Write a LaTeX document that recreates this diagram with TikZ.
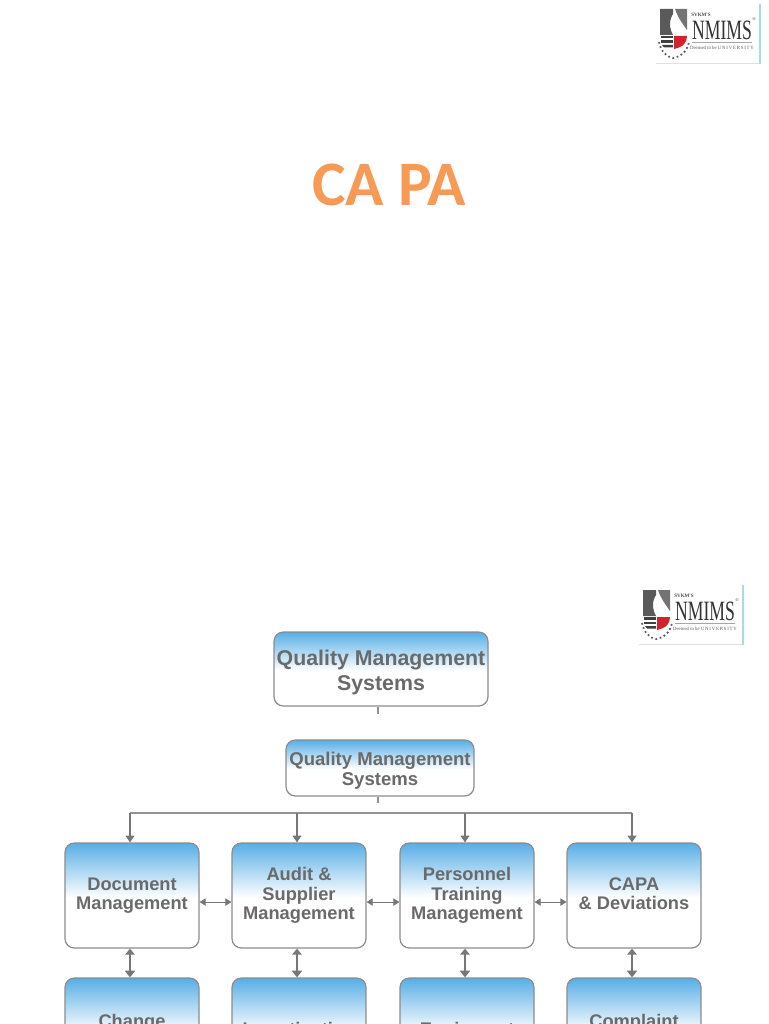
\documentclass[tikz,border=0pt]{standalone}
\usepackage{fontspec}
\setmainfont{Liberation Sans}
\newfontfamily\titlefont{Carlito}
\newfontfamily\serifface{Liberation Serif}
\usetikzlibrary{arrows.meta}
\definecolor{txtgrey}{HTML}{6A6A6A}
\definecolor{edgegrey}{HTML}{8C8C8C}
\definecolor{linegrey}{HTML}{777777}
\definecolor{headblue}{HTML}{58AEE6}
\definecolor{titleorange}{HTML}{F79A56}
\definecolor{logored}{HTML}{D3222E}
\definecolor{logogrey}{HTML}{5A5A5A}
\definecolor{logoblue}{HTML}{A6DCE6}
\pgfdeclareverticalshading{boxfade}{100bp}{color(0bp)=(white); color(25bp)=(white); color(49bp)=(white); color(62bp)=(headblue!50!white); color(75bp)=(headblue); color(100bp)=(headblue)}
\tikzset{
  x=0.75pt, y=-0.75pt,
  qbox/.style={draw=edgegrey, line width=0.9pt, rounded corners=7pt, shading=boxfade, align=center, text=txtgrey, font=\bfseries, inner sep=0pt},
  topbox/.style={qbox, minimum width=160.5pt, minimum height=55.5pt, font=\fontsize{16}{18.75}\selectfont\bfseries},
  subbox/.style={qbox, minimum width=141pt, minimum height=42pt, font=\fontsize{13.9}{15}\selectfont\bfseries},
  modbox/.style={qbox, minimum width=100.5pt, minimum height=78.75pt, font=\fontsize{13.7}{14.6}\selectfont\bfseries},
  stub/.style={draw=linegrey!80!white, line width=0.8pt},
  busline/.style={draw=linegrey!80!white, line width=0.9pt},
  downarrow/.style={draw=linegrey, line width=0.9pt, -{Triangle[length=5pt,width=6.5pt]}},
  sidearrow/.style={draw=linegrey, line width=0.7pt, {Triangle[length=4.5pt,width=5.5pt]}-{Triangle[length=4.5pt,width=5.5pt]}},
  vertarrow/.style={draw=linegrey, line width=1.5pt, {Triangle[length=4.5pt,width=7pt]}-{Triangle[length=5pt,width=7.5pt]}},
  nmims/.pic={
    \fill[logogrey] (4,9) -- (17,9) -- (17,14) .. controls (12,22) and (14,30) .. (17,35) -- (4,35) -- cycle;
    \fill[logogrey!85!white] (19,9) -- (31,9) -- (31,30) .. controls (27,24) and (22,18) .. (19,9) -- cycle;
    \fill[logored] (18,36) -- (31,36) .. controls (31,43) and (27,47) .. (18,49) -- cycle;
    \fill[black!75] (5,36) rectangle (17,38.5);
    \fill[black!75] (5,40.5) rectangle (17,43);
    \fill[black!75] (6,45) -- (17,45) -- (17,47.5) -- (8,47.5) -- cycle;
    \draw[logogrey, line width=1.3pt, dotted] (3,42) .. controls (5,52) and (11,57) .. (17,58) .. controls (24,57) and (31,52) .. (33,42);
    \node[font=\serifface\fontsize{3.8}{4}\selectfont\bfseries, text=black!70, inner sep=0pt] (-svkm) at (45,15) {SVKM'S};
    \node[font=\serifface\fontsize{21}{22}\selectfont, text=black!80, inner sep=0pt] (-name) at (66,30) {\scalebox{0.63}[1]{NMIMS}};
    \node[font=\fontsize{3}{3}\selectfont, text=black!70, inner sep=0pt] (-reg) at (98,19) {®};
    \draw[black!35, line width=0.7pt] (36,42.5) -- (96,42.5);
    \node[font=\serifface\fontsize{3.6}{4}\selectfont, text=black!65, inner sep=0pt] (-tag) at (66,48) {Deemed to be U\,N\,I\,V\,E\,R\,S\,I\,T\,Y};
    \draw[black!12, line width=0.8pt] (0,63.5) -- (104,63.5);
    \draw[logoblue, line width=0.9pt] (104,4) -- (104,64);
  }
}
\begin{document}
\begin{tikzpicture}
\useasboundingbox (0,0) rectangle (768,1024);
\clip (0,0) rectangle (768,1024);
\fill[white] (0,0) rectangle (768,1024);

\pic (logotop) at (656,0) {nmims};
\pic (logolow) at (639,581) {nmims};

\node[font=\titlefont\fontsize{47.5}{50}\selectfont\bfseries, text=titleorange, inner sep=0pt] (title) at (389,185) {CA PA};

\node[topbox] (q1) at (381,669) {\rule{0pt}{16.2pt}Quality Management\\Systems};
\node[subbox] (q2) at (380,768) {\rule{0pt}{13.9pt}Quality Management\\Systems};

\node[modbox] (d1) at (132,895.5) {Document\\Management};
\node[modbox] (d2) at (299,895.5) {Audit \&\\Supplier\\Management};
\node[modbox] (d3) at (467,895.5) {Personnel\\Training\\Management};
\node[modbox] (d4) at (634,895.5) {CAPA\\\& Deviations\rule[-2.5pt]{0pt}{1pt}};

\node[modbox] (c1) at (132,1030.5) {Change\\\phantom{X}};
\node[modbox] (c2) at (299,1030.5) {Investigation};
\node[modbox] (c3) at (467,1030.5) {Equipment};
\node[modbox] (c4) at (634,1030.5) {Complaint\\\phantom{X}};

\coordinate (s1) at (378,714);
\coordinate (s2) at (378,803);
\draw[stub] ([xshift=-2.25pt]q1.south) -- (s1);
\draw[stub] ([xshift=-1.5pt]q2.south) -- (s2);

\coordinate (busl) at (130,813);
\coordinate (busr) at (632,813);
\draw[busline] (busl) -- (busr);
\foreach \n/\px in {d1/130,d2/297,d3/465,d4/632}{
  \coordinate (b\n) at (\px,813);
  \draw[downarrow] (b\n) -- (b\n |- \n.north);
}
\foreach \a/\b in {d1/d2,d2/d3,d3/d4}{
  \draw[sidearrow] ([yshift=-4.9pt]\a.east) -- ([yshift=-4.9pt]\b.west);
}
\foreach \a/\b in {d1/c1,d2/c2,d3/c3,d4/c4}{
  \draw[vertarrow] ([xshift=-1.5pt]\a.south) -- ([xshift=-1.5pt]\b.north);
}
\end{tikzpicture}
\end{document}
